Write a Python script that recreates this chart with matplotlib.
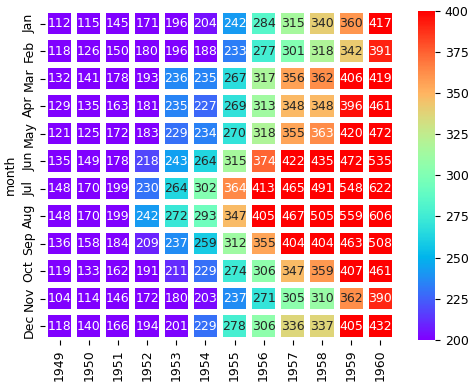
import matplotlib
matplotlib.use('Agg')
import matplotlib.pyplot as plt
import seaborn as sns
import pandas as pd
import numpy as np

years = [1949, 1950, 1951, 1952, 1953, 1954, 1955, 1956, 1957, 1958, 1959, 1960]
months = ['Jan', 'Feb', 'Mar', 'Apr', 'May', 'Jun', 'Jul', 'Aug', 'Sep', 'Oct', 'Nov', 'Dec']

jan = [112, 115, 145, 171, 196, 204, 242, 284, 315, 340, 360, 417]
feb = [118, 126, 150, 180, 196, 188, 233, 277, 301, 318, 342, 391]
mar = [132, 141, 178, 193, 236, 235, 267, 317, 356, 362, 406, 419]
apr = [129, 135, 163, 181, 235, 227, 269, 313, 348, 348, 396, 461]
may = [121, 125, 172, 183, 229, 234, 270, 318, 355, 363, 420, 472]
jun = [135, 149, 178, 218, 243, 264, 315, 374, 422, 435, 472, 535]
jul = [148, 170, 199, 230, 264, 302, 364, 413, 465, 491, 548, 622]
aug = [148, 170, 199, 242, 272, 293, 347, 405, 467, 505, 559, 606]
sep = [136, 158, 184, 209, 237, 259, 312, 355, 404, 404, 463, 508]
oct_ = [119, 133, 162, 191, 211, 229, 274, 306, 347, 359, 407, 461]
nov = [104, 114, 146, 172, 180, 203, 237, 271, 305, 310, 362, 390]
dec = [118, 140, 166, 194, 201, 229, 278, 306, 336, 337, 405, 432]

df = pd.DataFrame([jan, feb, mar, apr, may, jun, jul, aug, sep, oct_, nov, dec],
                  index=pd.Index(months, name='month'), columns=years)

plt.rcParams['font.size'] = 9
fig = plt.figure(figsize=(4.74, 3.84), dpi=100)
ax = fig.add_axes([0.095, 0.115, 0.738, 0.859])
cax = fig.add_axes([0.882, 0.115, 0.036, 0.857])
sns.heatmap(df, ax=ax, cbar_ax=cax, cmap='rainbow', vmin=200, vmax=400, annot=True, fmt='d',
            linewidths=3, linecolor='white')
ax.set_xlabel('')
plt.setp(ax.get_yticklabels(), rotation=90, va='center')
plt.savefig('out.png')
